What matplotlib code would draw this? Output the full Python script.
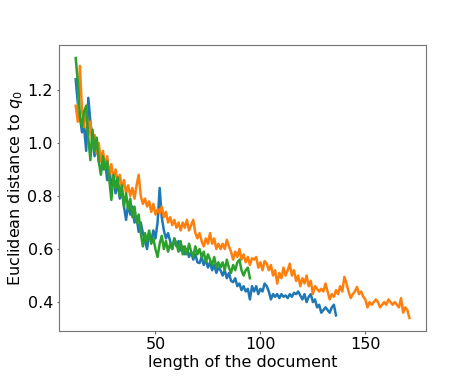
import matplotlib
matplotlib.use("Agg")
import matplotlib.pyplot as plt
import numpy as np

blue_start = 12
blue = [1.24, 1.15, 1.10, 1.04, 1.06, 0.97, 1.17, 1.08, 1.01, 0.95,
        1.00, 0.93, 0.96, 0.90, 0.93, 0.86, 0.90, 0.84, 0.87, 0.81,
        0.85, 0.79, 0.82, 0.76, 0.71, 0.77, 0.73, 0.76, 0.70, 0.72,
        0.665, 0.70, 0.66, 0.63, 0.60, 0.66, 0.63, 0.67, 0.64, 0.70,
        0.83, 0.72, 0.67, 0.64, 0.66, 0.63, 0.60, 0.64, 0.61, 0.63,
        0.595, 0.61, 0.58, 0.60, 0.57, 0.59, 0.56, 0.58, 0.55, 0.547,
        0.57, 0.54, 0.56, 0.53, 0.55, 0.52, 0.54, 0.51, 0.53, 0.52,
        0.50, 0.52, 0.49, 0.51, 0.48, 0.475, 0.49, 0.46, 0.47, 0.445,
        0.46, 0.44, 0.45, 0.41, 0.46, 0.44, 0.46, 0.43, 0.45, 0.44,
        0.47, 0.46, 0.44, 0.41, 0.43, 0.42, 0.43, 0.415, 0.43, 0.42,
        0.425, 0.415, 0.43, 0.42, 0.435, 0.43, 0.44, 0.425, 0.41, 0.43,
        0.40, 0.42, 0.43, 0.40, 0.41, 0.38, 0.39, 0.36, 0.37, 0.38,
        0.37, 0.36, 0.38, 0.39, 0.35]

orange_start = 12
orange = [1.14, 1.08, 1.29, 1.12, 1.06, 1.14, 1.03, 1.08, 0.99, 1.03,
          0.96, 1.00, 0.93, 0.97, 0.91, 0.95, 0.88, 0.92, 0.86, 0.90,
          0.85, 0.88, 0.83, 0.86, 0.81, 0.84, 0.80, 0.83, 0.79, 0.84,
          0.88, 0.80, 0.77, 0.79, 0.76, 0.78, 0.74, 0.77, 0.73, 0.75,
          0.735, 0.76, 0.72, 0.74, 0.70, 0.72, 0.69, 0.71, 0.68, 0.70,
          0.67, 0.70, 0.68, 0.71, 0.67, 0.69, 0.71, 0.66, 0.64, 0.66,
          0.63, 0.61, 0.64, 0.62, 0.66, 0.62, 0.64, 0.60, 0.62, 0.60,
          0.62, 0.60, 0.635, 0.61, 0.59, 0.56, 0.59, 0.57, 0.60, 0.56,
          0.58, 0.55, 0.57, 0.54, 0.565, 0.56, 0.57, 0.53, 0.55, 0.52,
          0.555, 0.545, 0.52, 0.54, 0.50, 0.52, 0.47, 0.51, 0.49, 0.53,
          0.50, 0.52, 0.545, 0.50, 0.52, 0.48, 0.50, 0.46, 0.49, 0.47,
          0.50, 0.46, 0.48, 0.43, 0.46, 0.45, 0.44, 0.45, 0.44, 0.47,
          0.44, 0.41, 0.43, 0.42, 0.445, 0.43, 0.46, 0.44, 0.495, 0.47,
          0.44, 0.415, 0.43, 0.44, 0.457, 0.43, 0.44, 0.42, 0.41, 0.38,
          0.40, 0.39, 0.40, 0.41, 0.40, 0.38, 0.39, 0.40, 0.39, 0.41,
          0.40, 0.39, 0.40, 0.39, 0.38, 0.415, 0.36, 0.38, 0.37, 0.34]

green_start = 12
green = [1.32, 1.23, 1.10, 1.06, 1.12, 1.14, 1.02, 0.935, 1.05, 0.97,
         1.02, 0.93, 0.88, 0.95, 0.90, 0.93, 0.86, 0.785, 0.88, 0.83,
         0.87, 0.80, 0.84, 0.76, 0.81, 0.75, 0.79, 0.72, 0.76, 0.70,
         0.73, 0.66, 0.61, 0.66, 0.63, 0.67, 0.62, 0.64, 0.60, 0.57,
         0.62, 0.65, 0.60, 0.63, 0.59, 0.62, 0.60, 0.64, 0.62, 0.59,
         0.63, 0.58, 0.61, 0.58, 0.62, 0.59, 0.57, 0.61, 0.58, 0.60,
         0.57, 0.59, 0.55, 0.58, 0.56, 0.54, 0.57, 0.53, 0.55, 0.53,
         0.55, 0.52, 0.56, 0.53, 0.51, 0.54, 0.52, 0.55, 0.56, 0.52,
         0.50, 0.52, 0.53, 0.49]

xlabel = "length of the document"
ylabel = "Euclidean distance to $q_0$"

fig = plt.figure(figsize=(4.74, 3.78), dpi=100)
ax = fig.add_axes([0.1245, 0.1243, 0.7745, 0.7566])

lw = 1.8
for start, vals, col in [(blue_start, blue, "#1f77b4"),
                         (orange_start, orange, "#ff7f0e"),
                         (green_start, green, "#2ca02c")]:
    xs = np.arange(start, start + len(vals))
    ax.plot(xs, vals, color=col, linewidth=lw)

ax.set_xticks([50, 100, 150])
ax.set_yticks([0.4, 0.6, 0.8, 1.0, 1.2])
ax.tick_params(labelsize=11.5, color="0.4", length=1.8, pad=2.6)
for s in ax.spines.values():
    s.set_color("0.45")
ax.set_xlabel(xlabel, fontsize=11.5, labelpad=2)
ax.set_ylabel(ylabel, fontsize=11.5, labelpad=2)

fig.savefig("out.png", dpi=100)
